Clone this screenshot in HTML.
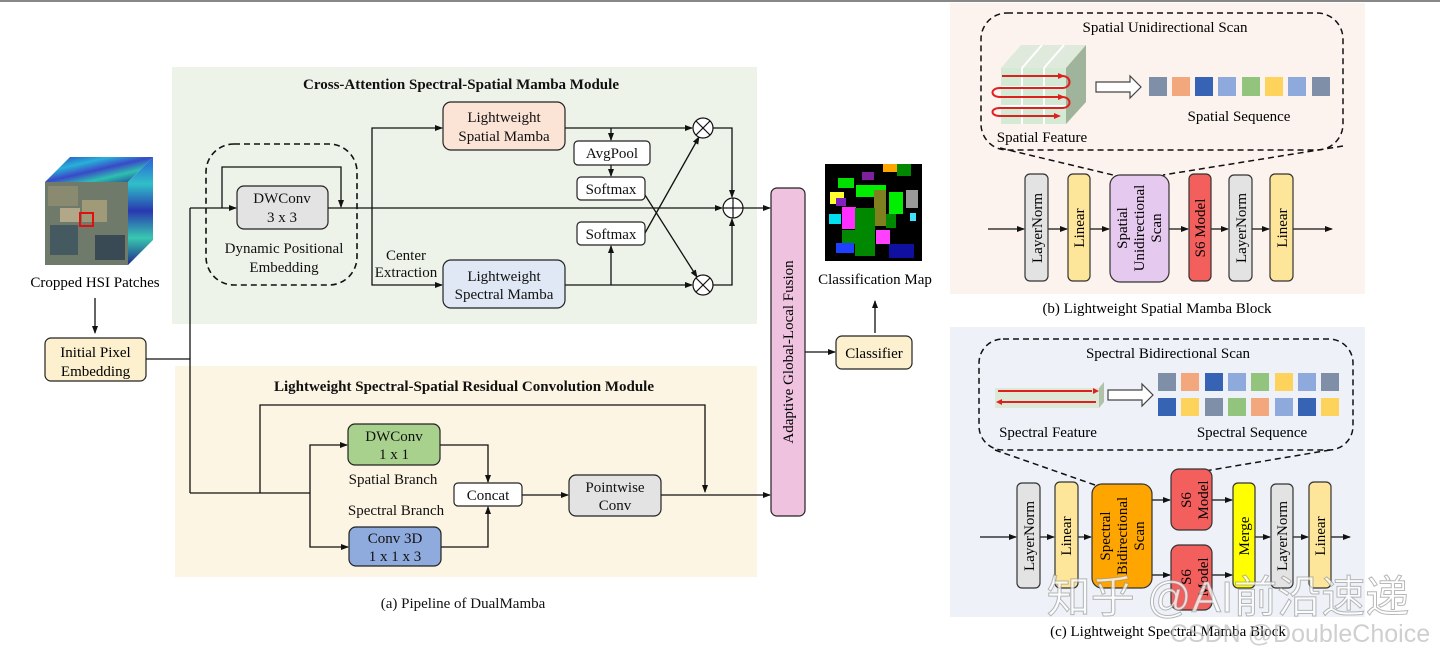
<!DOCTYPE html>
<html><head><meta charset="utf-8"><style>
html,body{margin:0;padding:0;background:#fff;}
svg{display:block;font-family:"Liberation Serif",serif;}
</style></head><body>
<svg width="1440" height="657" viewBox="0 0 1440 657" xmlns="http://www.w3.org/2000/svg">
<defs>
<marker id="a" markerWidth="8" markerHeight="8" refX="7" refY="4" orient="auto" markerUnits="userSpaceOnUse"><path d="M0,1 L8,4 L0,7 Z" fill="#111"/></marker>
<linearGradient id="hs" x1="0" y1="0" x2="1" y2="1">
<stop offset="0" stop-color="#2a3cc0"/><stop offset=".3" stop-color="#28b0d8"/><stop offset=".5" stop-color="#3a48c8"/><stop offset=".7" stop-color="#2ec0b0"/><stop offset="1" stop-color="#1a2890"/></linearGradient>
<linearGradient id="hs2" x1="0" y1="0" x2="0" y2="1">
<stop offset="0" stop-color="#2a60d8"/><stop offset=".25" stop-color="#30c0c8"/><stop offset=".5" stop-color="#2838b0"/><stop offset=".75" stop-color="#38c8b0"/><stop offset="1" stop-color="#20288a"/></linearGradient>
</defs>
<line x1="0" y1="1" x2="1440" y2="1" stroke="#888" stroke-width="2"/>

<rect x="172" y="67" width="585" height="257" fill="#eef3ea"/>
<rect x="175" y="366" width="582" height="211" fill="#fdf5e3"/>
<rect x="950" y="3" width="415" height="291" fill="#fcf3ee"/>
<rect x="950" y="327" width="415" height="290" fill="#eef2f8"/>

<g font-size="15" fill="#111" text-anchor="middle">
<text x="461" y="89" font-weight="bold">Cross-Attention Spectral-Spatial Mamba Module</text>
<text x="464" y="391" font-weight="bold">Lightweight Spectral-Spatial Residual Convolution Module</text>
</g>

<polygon points="45,182 70,157 153,157 128,182" fill="url(#hs)"/>
<polygon points="128,182 153,157 153,240 128,265" fill="url(#hs2)"/>
<rect x="45" y="182" width="83" height="83" fill="#6f7a6a"/>
<rect x="48" y="186" width="30" height="20" fill="#8a8a70"/>
<rect x="82" y="200" width="25" height="22" fill="#a09a78"/>
<rect x="50" y="225" width="28" height="30" fill="#445a60"/>
<rect x="95" y="235" width="30" height="25" fill="#3a4a55"/>
<rect x="60" y="208" width="20" height="14" fill="#b0a888"/>
<rect x="80" y="213" width="13" height="13" fill="none" stroke="#e01010" stroke-width="2"/>
<text x="95" y="287" font-size="15" text-anchor="middle">Cropped HSI Patches</text>
<line x1="95" y1="298" x2="95" y2="333" stroke="#111" stroke-width="1.3" marker-end="url(#a)"/>
<rect x="45" y="338" width="101" height="43" rx="6" fill="#fdf0cf" stroke="#222" stroke-width="1.2"/>
<text x="95.5" y="357" font-size="15" text-anchor="middle">Initial Pixel</text>
<text x="95.5" y="376" font-size="15" text-anchor="middle">Embedding</text>

<g stroke="#111" stroke-width="1.3" fill="none">
<polyline points="146,359 190,359"/>
<line x1="190" y1="208" x2="190" y2="493"/>
<line x1="190" y1="208" x2="236" y2="208" marker-end="url(#a)"/>
<polyline points="222,208 222,167 341,167 341,207" marker-end="url(#a)"/>
<line x1="328" y1="208" x2="722" y2="208" marker-end="url(#a)"/>
<polyline points="372,208 372,128 442,128" marker-end="url(#a)"/>
<polyline points="372,208 372,285 442,285" marker-end="url(#a)"/>
<line x1="565" y1="128" x2="692" y2="128" marker-end="url(#a)"/>
<line x1="611" y1="128" x2="611" y2="140" marker-end="url(#a)"/>
<line x1="611" y1="165" x2="611" y2="176" marker-end="url(#a)"/>
<line x1="565" y1="285" x2="692" y2="285" marker-end="url(#a)"/>
<line x1="611" y1="285" x2="611" y2="246" marker-end="url(#a)"/>
<line x1="645" y1="195" x2="697" y2="277" marker-end="url(#a)"/>
<line x1="645" y1="233" x2="699" y2="137" marker-end="url(#a)"/>
<polyline points="713,128 732,128 732,197" marker-end="url(#a)"/>
<polyline points="713,285 732,285 732,219" marker-end="url(#a)"/>
<line x1="743" y1="208" x2="770" y2="208" marker-end="url(#a)"/>
<line x1="805" y1="352" x2="835" y2="352" marker-end="url(#a)"/>
<line x1="875" y1="333" x2="875" y2="301" marker-end="url(#a)"/>
<line x1="190" y1="493" x2="310" y2="493"/>
<polyline points="260,493 260,405 705,405 705,492" marker-end="url(#a)"/>
<polyline points="310,493 310,445 347,445" marker-end="url(#a)"/>
<polyline points="310,493 310,547 348,547" marker-end="url(#a)"/>
<polyline points="440,445 488,445 488,482" marker-end="url(#a)"/>
<polyline points="441,547 488,547 488,507" marker-end="url(#a)"/>
<line x1="522" y1="495" x2="568" y2="495" marker-end="url(#a)"/>
<line x1="661" y1="495" x2="770" y2="495" marker-end="url(#a)"/>
</g>

<rect x="206" y="144" width="151" height="141" rx="28" fill="none" stroke="#111" stroke-width="1.6" stroke-dasharray="6,4"/>
<rect x="237" y="186" width="91" height="43" rx="7" fill="#e3e3e3" stroke="#222" stroke-width="1.2"/>
<g font-size="15" fill="#111" text-anchor="middle">
<text x="282" y="203">DWConv</text><text x="282" y="222">3 x 3</text>
<text x="284" y="253">Dynamic Positional</text><text x="284" y="272">Embedding</text>
<text x="406" y="260">Center</text><text x="406" y="277">Extraction</text>
</g>

<rect x="443" y="102" width="122" height="48" rx="8" fill="#fbe3d6" stroke="#222" stroke-width="1.2"/>
<rect x="443" y="260" width="122" height="48" rx="8" fill="#dfe8f4" stroke="#222" stroke-width="1.2"/>
<rect x="574" y="141" width="76" height="24" rx="4" fill="#fff" stroke="#222" stroke-width="1.2"/>
<rect x="577" y="177" width="68" height="23" rx="4" fill="#fff" stroke="#222" stroke-width="1.2"/>
<rect x="577" y="222" width="68" height="23" rx="4" fill="#fff" stroke="#222" stroke-width="1.2"/>
<g font-size="15" fill="#111" text-anchor="middle">
<text x="504" y="122">Lightweight</text><text x="504" y="141">Spatial Mamba</text>
<text x="504" y="281">Lightweight</text><text x="504" y="299">Spectral Mamba</text>
<text x="612" y="158">AvgPool</text><text x="611" y="194">Softmax</text><text x="611" y="239">Softmax</text>
</g>
<g stroke="#111" stroke-width="1.2" fill="#fff">
<circle cx="703" cy="128" r="10"/><circle cx="703" cy="285" r="10"/><circle cx="733" cy="208" r="10"/>
</g>
<g stroke="#111" stroke-width="1.2">
<line x1="696" y1="121" x2="710" y2="135"/><line x1="710" y1="121" x2="696" y2="135"/>
<line x1="696" y1="278" x2="710" y2="292"/><line x1="710" y1="278" x2="696" y2="292"/>
<line x1="723" y1="208" x2="743" y2="208"/><line x1="733" y1="198" x2="733" y2="218"/>
</g>

<rect x="771" y="188" width="34" height="328" rx="6" fill="#efc3df" stroke="#222" stroke-width="1.2"/>
<text transform="translate(793,352) rotate(-90)" font-size="15" text-anchor="middle">Adaptive Global-Local Fusion</text>

<rect x="825" y="164" width="97" height="97" fill="#000"/>
<rect x="838" y="178" width="16" height="10" fill="#00e000"/>
<rect x="830" y="192" width="14" height="12" fill="#ffff30"/>
<rect x="856" y="185" width="30" height="12" fill="#00ee00"/>
<rect x="874" y="190" width="12" height="36" fill="#808020"/>
<rect x="842" y="207" width="14" height="22" fill="#ff30ff"/>
<rect x="855" y="208" width="20" height="48" fill="#008800"/>
<rect x="842" y="230" width="14" height="14" fill="#008800"/>
<rect x="889" y="192" width="14" height="22" fill="#00ee00"/>
<rect x="886" y="214" width="10" height="14" fill="#008800"/>
<rect x="906" y="190" width="12" height="18" fill="#999"/>
<rect x="829" y="214" width="12" height="10" fill="#00e0f0"/>
<rect x="876" y="230" width="14" height="14" fill="#ff40ff"/>
<rect x="889" y="244" width="25" height="14" fill="#1010a0"/>
<rect x="836" y="243" width="18" height="10" fill="#2040ff"/>
<rect x="883" y="164" width="14" height="8" fill="#ffa500"/>
<rect x="897" y="164" width="14" height="12" fill="#008800"/>
<rect x="862" y="172" width="12" height="8" fill="#8020a0"/>
<rect x="910" y="213" width="6" height="8" fill="#40e0ff"/>
<rect x="836" y="198" width="10" height="8" fill="#8020c0"/>
<text x="875" y="284" font-size="15" text-anchor="middle">Classification Map</text>
<rect x="836" y="336" width="76" height="33" rx="6" fill="#fdf0cf" stroke="#222" stroke-width="1.2"/>
<text x="874" y="358" font-size="15" text-anchor="middle">Classifier</text>

<rect x="348" y="424" width="92" height="41" rx="7" fill="#a9d18e" stroke="#222" stroke-width="1.2"/>
<rect x="349" y="527" width="92" height="39" rx="7" fill="#8faadc" stroke="#222" stroke-width="1.2"/>
<rect x="454" y="483" width="68" height="23" rx="4" fill="#fff" stroke="#222" stroke-width="1.2"/>
<rect x="569" y="475" width="92" height="41" rx="7" fill="#e3e3e3" stroke="#222" stroke-width="1.2"/>
<g font-size="15" fill="#111" text-anchor="middle">
<text x="394" y="441">DWConv</text><text x="394" y="459">1 x 1</text>
<text x="393" y="484">Spatial Branch</text><text x="396" y="515">Spectral Branch</text>
<text x="395" y="543">Conv 3D</text><text x="395" y="561">1 x 1 x 3</text>
<text x="488" y="500">Concat</text>
<text x="615" y="492">Pointwise</text><text x="615" y="510">Conv</text>
<text x="463" y="608">(a) Pipeline of DualMamba</text>
</g>

<rect x="981" y="13" width="362" height="137" rx="26" fill="none" stroke="#111" stroke-width="1.5" stroke-dasharray="6,4"/>
<line x1="1000" y1="148" x2="1113" y2="175" stroke="#111" stroke-width="1.5" stroke-dasharray="6,4"/>
<line x1="1343" y1="146" x2="1163" y2="175" stroke="#111" stroke-width="1.5" stroke-dasharray="6,4"/>
<text x="1165" y="32" font-size="15" text-anchor="middle">Spatial Unidirectional Scan</text>
<g>
<polygon points="1001,68 1021,45 1086,45 1066,68" fill="#dfe9dc"/>
<polygon points="1066,68 1086,45 1086,102 1066,124" fill="#9fb49a"/>
<rect x="1001" y="68" width="65" height="56" fill="#d5ead4"/>
<g stroke="#fff" stroke-width="2"><line x1="1022" y1="68" x2="1022" y2="124"/><line x1="1044" y1="68" x2="1044" y2="124"/>
<line x1="1001" y1="87" x2="1066" y2="87"/><line x1="1001" y1="106" x2="1066" y2="106"/>
<line x1="1022" y1="68" x2="1042" y2="45"/><line x1="1044" y1="68" x2="1064" y2="45"/></g>
<path d="M1002,76 H1062 C1072,76 1072,88 1062,88 H1000 C990,88 990,97 1000,97 H1062 C1072,97 1072,108 1062,108 H1000 C990,108 990,116 1000,116 H1058" fill="none" stroke="#e02020" stroke-width="2"/>
<path d="M1054,113 L1061,116 L1054,119 Z M1058,73 L1065,76 L1058,79 Z M1058,94 L1065,97 L1058,100Z" fill="#e02020"/>
</g>
<polygon points="1096,82 1130,82 1130,76 1141,87 1130,98 1130,92 1096,92" fill="#fff" stroke="#444" stroke-width="1.2"/>
<g>
<rect x="1149" y="77" width="18" height="19" fill="#7f8fa8"/><rect x="1172" y="77" width="18" height="19" fill="#f2a77c"/>
<rect x="1195" y="77" width="18" height="19" fill="#3763b5"/><rect x="1218" y="77" width="18" height="19" fill="#8eaadc"/>
<rect x="1242" y="77" width="18" height="19" fill="#92c47d"/><rect x="1265" y="77" width="18" height="19" fill="#fdd35c"/>
<rect x="1288" y="77" width="18" height="19" fill="#8eaadc"/><rect x="1312" y="77" width="18" height="19" fill="#7f8fa8"/>
</g>
<text x="1042" y="142" font-size="15" text-anchor="middle">Spatial Feature</text>
<text x="1239" y="121" font-size="15" text-anchor="middle">Spatial Sequence</text>
<g stroke="#111" stroke-width="1.2">
<line x1="988" y1="229" x2="1024" y2="229" marker-end="url(#a)"/>
<line x1="1048" y1="229" x2="1067" y2="229" marker-end="url(#a)"/>
<line x1="1090" y1="229" x2="1109" y2="229" marker-end="url(#a)"/>
<line x1="1169" y1="229" x2="1188" y2="229" marker-end="url(#a)"/>
<line x1="1211" y1="229" x2="1228" y2="229" marker-end="url(#a)"/>
<line x1="1252" y1="229" x2="1269" y2="229" marker-end="url(#a)"/>
<line x1="1293" y1="229" x2="1332" y2="229" marker-end="url(#a)"/>
</g>
<rect x="1025" y="174" width="23" height="107" rx="5" fill="#e3e3e3" stroke="#333" stroke-width="1.2"/>
<rect x="1068" y="174" width="22" height="107" rx="5" fill="#fde59a" stroke="#333" stroke-width="1.2"/>
<rect x="1110" y="175" width="59" height="107" rx="10" fill="#e6c9ef" stroke="#333" stroke-width="1.2"/>
<rect x="1189" y="174" width="22" height="107" rx="5" fill="#f25f5c" stroke="#333" stroke-width="1.2"/>
<rect x="1229" y="175" width="23" height="106" rx="5" fill="#e3e3e3" stroke="#333" stroke-width="1.2"/>
<rect x="1270" y="174" width="23" height="107" rx="5" fill="#fde59a" stroke="#333" stroke-width="1.2"/>
<g font-size="15" text-anchor="middle">
<text transform="translate(1042,228) rotate(-90)">LayerNorm</text>
<text transform="translate(1084,228) rotate(-90)">Linear</text>
<text transform="translate(1127,228) rotate(-90)">Spatial</text>
<text transform="translate(1144,228) rotate(-90)">Unidirectional</text>
<text transform="translate(1161,228) rotate(-90)">Scan</text>
<text transform="translate(1205,228) rotate(-90)">S6 Model</text>
<text transform="translate(1246,228) rotate(-90)">LayerNorm</text>
<text transform="translate(1287,228) rotate(-90)">Linear</text>
<text x="1157" y="313">(b) Lightweight Spatial Mamba Block</text>
</g>

<rect x="979" y="339" width="374" height="111" rx="24" fill="none" stroke="#111" stroke-width="1.5" stroke-dasharray="6,4"/>
<line x1="995" y1="450" x2="1095" y2="485" stroke="#111" stroke-width="1.5" stroke-dasharray="6,4"/>
<line x1="1330" y1="450" x2="1205" y2="471" stroke="#111" stroke-width="1.5" stroke-dasharray="6,4"/>
<text x="1168" y="358" font-size="15" text-anchor="middle">Spectral Bidirectional Scan</text>
<polygon points="995,388 1099,388 1104,382 1104,402 1099,408 995,408" fill="#dbe9d6"/>
<polygon points="1099,388 1104,382 1104,402 1099,408" fill="#b0c2aa"/>
<line x1="998" y1="391" x2="1092" y2="391" stroke="#e02020" stroke-width="2"/>
<path d="M1093,388 L1099,391 L1093,394Z" fill="#e02020"/>
<line x1="1002" y1="402" x2="1096" y2="402" stroke="#e02020" stroke-width="2"/>
<path d="M1002,399 L996,402 L1002,405Z" fill="#e02020"/>
<polygon points="1108,390 1142,390 1142,384 1153,395 1142,406 1142,400 1108,400" fill="#fff" stroke="#444" stroke-width="1.2"/>
<g>
<rect x="1158" y="373" width="18" height="18" fill="#7f8fa8"/><rect x="1181" y="373" width="18" height="18" fill="#f2a77c"/>
<rect x="1205" y="373" width="18" height="18" fill="#3763b5"/><rect x="1228" y="373" width="18" height="18" fill="#8eaadc"/>
<rect x="1251" y="373" width="18" height="18" fill="#92c47d"/><rect x="1275" y="373" width="18" height="18" fill="#fdd35c"/>
<rect x="1298" y="373" width="18" height="18" fill="#8eaadc"/><rect x="1321" y="373" width="18" height="18" fill="#7f8fa8"/>
<rect x="1158" y="398" width="18" height="18" fill="#3763b5"/><rect x="1181" y="398" width="18" height="18" fill="#fdd35c"/>
<rect x="1205" y="398" width="18" height="18" fill="#7f8fa8"/><rect x="1228" y="398" width="18" height="18" fill="#92c47d"/>
<rect x="1251" y="398" width="18" height="18" fill="#f2a77c"/><rect x="1275" y="398" width="18" height="18" fill="#8eaadc"/>
<rect x="1298" y="398" width="18" height="18" fill="#3763b5"/><rect x="1321" y="398" width="18" height="18" fill="#fdd35c"/>
</g>
<text x="1048" y="437" font-size="15" text-anchor="middle">Spectral Feature</text>
<text x="1252" y="437" font-size="15" text-anchor="middle">Spectral Sequence</text>
<g stroke="#111" stroke-width="1.2">
<line x1="980" y1="537" x2="1016" y2="537" marker-end="url(#a)"/>
<line x1="1040" y1="537" x2="1054" y2="537" marker-end="url(#a)"/>
<line x1="1078" y1="537" x2="1091" y2="537" marker-end="url(#a)"/>
<line x1="1152" y1="500" x2="1170" y2="500" marker-end="url(#a)"/>
<line x1="1152" y1="575" x2="1170" y2="575" marker-end="url(#a)"/>
<line x1="1212" y1="500" x2="1232" y2="500" marker-end="url(#a)"/>
<line x1="1212" y1="575" x2="1232" y2="575" marker-end="url(#a)"/>
<line x1="1255" y1="537" x2="1270" y2="537" marker-end="url(#a)"/>
<line x1="1293" y1="537" x2="1308" y2="537" marker-end="url(#a)"/>
<line x1="1331" y1="537" x2="1350" y2="537" marker-end="url(#a)"/>
</g>
<rect x="1017" y="483" width="23" height="105" rx="5" fill="#e3e3e3" stroke="#333" stroke-width="1.2"/>
<rect x="1055" y="482" width="23" height="106" rx="5" fill="#fde59a" stroke="#333" stroke-width="1.2"/>
<rect x="1092" y="484" width="60" height="104" rx="10" fill="#ffa500" stroke="#333" stroke-width="1.2"/>
<rect x="1171" y="469" width="41" height="61" rx="8" fill="#f25f5c" stroke="#333" stroke-width="1.2"/>
<rect x="1171" y="545" width="41" height="65" rx="8" fill="#f25f5c" stroke="#333" stroke-width="1.2"/>
<rect x="1233" y="483" width="22" height="105" rx="5" fill="#ffff00" stroke="#333" stroke-width="1.2"/>
<rect x="1271" y="484" width="22" height="104" rx="5" fill="#e3e3e3" stroke="#333" stroke-width="1.2"/>
<rect x="1309" y="482" width="22" height="106" rx="5" fill="#fde59a" stroke="#333" stroke-width="1.2"/>
<g font-size="15" text-anchor="middle">
<text transform="translate(1034,536) rotate(-90)">LayerNorm</text>
<text transform="translate(1071,536) rotate(-90)">Linear</text>
<text transform="translate(1110,536) rotate(-90)">Spectral</text>
<text transform="translate(1127,536) rotate(-90)">Bidirectional</text>
<text transform="translate(1144,536) rotate(-90)">Scan</text>
<text transform="translate(1191,500) rotate(-90)">S6</text>
<text transform="translate(1208,500) rotate(-90)">Model</text>
<text transform="translate(1191,577) rotate(-90)">S6</text>
<text transform="translate(1208,577) rotate(-90)">Model</text>
<text transform="translate(1249,536) rotate(-90)">Merge</text>
<text transform="translate(1287,536) rotate(-90)">LayerNorm</text>
<text transform="translate(1325,536) rotate(-90)">Linear</text>
<text x="1168" y="636">(c) Lightweight Spectral Mamba Block</text>
</g>

<text x="1228" y="612" font-size="44" text-anchor="middle" fill="#fff" fill-opacity="0.75" stroke="#888" stroke-opacity="0.6" stroke-width="1" font-family="'Liberation Sans','Noto Sans CJK SC',sans-serif">知乎 @AI前沿速递</text>
<text x="1300" y="642" font-size="25" text-anchor="middle" fill="#bbb" fill-opacity="0.7" font-family="'Liberation Sans',sans-serif">CSDN @DoubleChoice</text>
</svg>
</body></html>
